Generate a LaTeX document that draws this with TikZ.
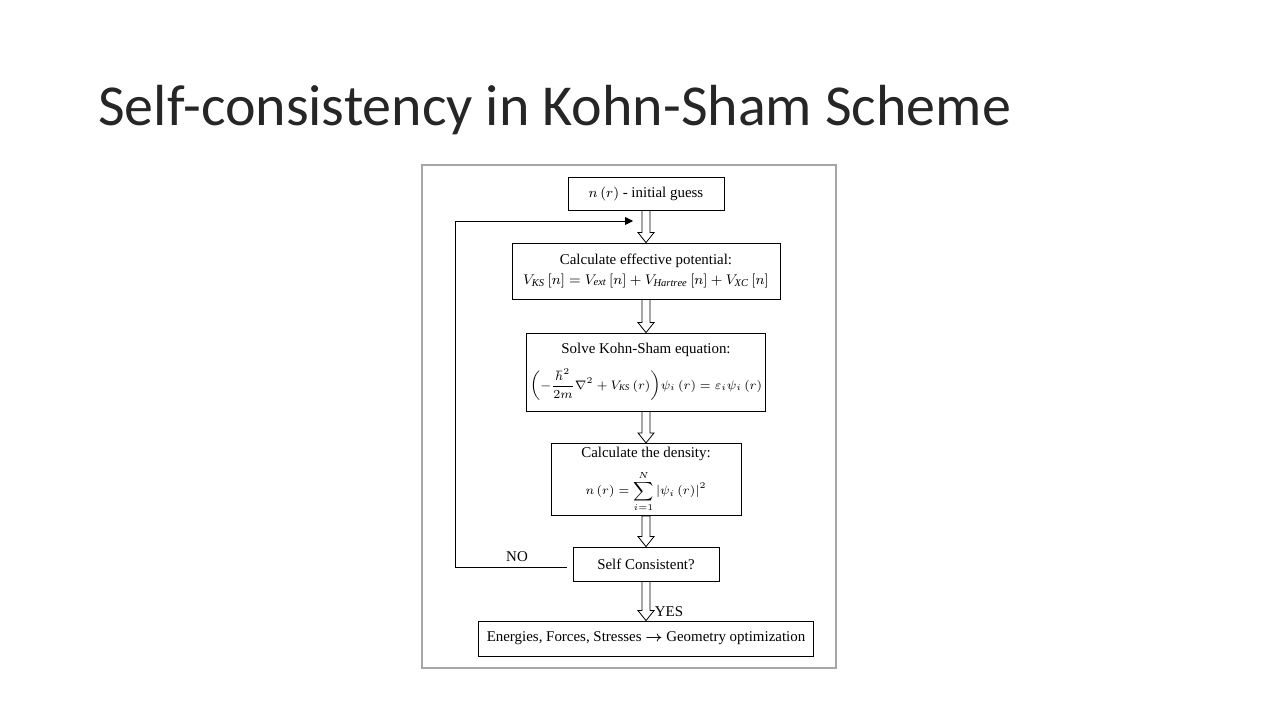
\documentclass[tikz,border=0pt]{standalone}
\usepackage{amsmath,amssymb}
\usepackage{fontspec}
\setmainfont{Liberation Serif}
\newfontfamily\titlefont{Carlito}
\usetikzlibrary{arrows.meta,calc}

\begin{document}
\begin{tikzpicture}[x=0.02cm, y=-0.02cm,
    stepbox/.style={rectangle, draw=black, line width=0.5pt,
        font=\fontsize{8.5}{10}\selectfont, align=center, inner sep=2pt},
    lbl/.style={font=\fontsize{8.5}{10}\selectfont, inner sep=0pt},
    % open block arrow between two steps
    hollow/.style={draw=black, line width=0.45pt, fill=white,
        to path={($(\tikztostart)+(-4,0)$) -- ($(\tikztotarget)+(-4,-10)$)
            -- ($(\tikztotarget)+(-8,-10)$) -- (\tikztotarget)
            -- ($(\tikztotarget)+(8,-10)$) -- ($(\tikztotarget)+(4,-10)$)
            -- ($(\tikztostart)+(4,0)$) -- cycle}},
    arr/.style={-{Triangle[length=4.5pt,width=4.5pt]}, line width=0.5pt}
]
    \useasboundingbox (0,0) rectangle (1280,720);
    \fill[white] (0,0) rectangle (1280,720);

    % ---- Title ----
    \node[anchor=base west, inner sep=0pt, text=black!85,
        font=\titlefont\fontsize{33}{40}\selectfont] (title) at (98,125)
        {Self-consistency in Kohn-Sham Scheme};

    % ---- Frame ----
    \draw[gray!70, line width=0.6pt] (422,165) rectangle (836,668);

    % ---- Steps ----
    \node[stepbox, minimum width=3.12cm, minimum height=0.66cm] (init) at (646,193.5)
        {$n\left(r\right)$ - initial guess};
    \node[stepbox, minimum width=5.36cm, minimum height=1.12cm] (pot) at (646,271)
        {Calculate effective potential:\\[1pt]
         {\fontsize{8}{9}\selectfont$V_{\mathit{KS}}\left[n\right]=V_{\mathit{ext}}\left[n\right]+V_{\mathit{Hartree}}\left[n\right]+V_{\mathit{XC}}\left[n\right]$}};
    \node[stepbox, minimum width=4.64cm, minimum height=1.56cm] (ks) at (646,372)
        {Solve Kohn-Sham equation:\\[6pt]
         {\fontsize{7}{8}\selectfont$\biggl(-\dfrac{\hbar^2}{2m}\nabla^2+V_{\mathit{KS}}\left(r\right)\biggr)\psi_i\left(r\right)=\varepsilon_i\psi_i\left(r\right)$}};
    \node[stepbox, minimum width=3.8cm, minimum height=1.34cm] (dens) at (646,479.5)
        {Calculate the density:\\[5pt]
         {\fontsize{7.5}{8.5}\selectfont$n\left(r\right)=\displaystyle\sum_{i=1}^{N}\left|\psi_i\left(r\right)\right|^2$}};
    \node[stepbox, minimum width=2.92cm, minimum height=0.68cm] (cons) at (646,564)
        {Self Consistent?};
    \node[stepbox, minimum width=6.7cm, minimum height=0.7cm] (final) at (646,638.5)
        {Energies, Forces, Stresses $\boldsymbol{\rightarrow}$ Geometry optimization};

    % ---- Flow ----
    \draw[hollow] (init.south) to (pot.north);
    \draw[hollow] (pot.south) to (ks.north);
    \draw[hollow] (ks.south) to (dens.north);
    \draw[hollow] (dens.south) to (cons.north);
    \draw[hollow] (cons.south) to (final.north);

    % feedback loop when not converged
    \coordinate (entry) at (633,221);
    \draw[arr] ([xshift=-0.12cm, yshift=-2pt]cons.west) -- ++(-111,0) |- (entry);

    \node[lbl] (no) at (517,557) {NO};
    \node[lbl] (yes) at (669,612) {YES};
\end{tikzpicture}
\end{document}
